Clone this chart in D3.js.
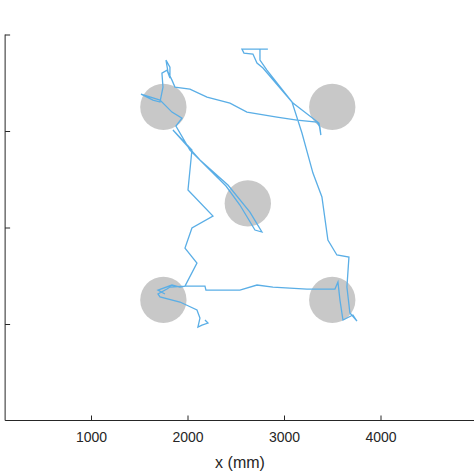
<!DOCTYPE html>
<html><head><meta charset="utf-8">
<script src="https://cdn.jsdelivr.net/npm/d3@7"></script>
<style>body{margin:0;background:#fff}</style>
</head><body>
<svg width="474" height="474"></svg>
<script>
// targets (mm)
const targetX = [1750, 3500, 2625, 1750, 3500];
const targetY = [3250, 3250, 2250, 1250, 1250];
const targetR = 240;
// trajectory (mm)
const pathX = [1766,1694,1839,1922,1974,2098,1974,2046,2264,2005,2046,1849,2129,2419,2647,2771,2699,2543,2399,2025,1880,1943,1839,1715,1518,1642,1715,1746,1735,1787,1818,1818,1777,1798,1839,1870,2025,2202,2440,2616,2927,3134,3341,3372,3382,3362,3093,2823,2751,2751,2833,2564,2585,2678,2720,2782,3083,3186,3300,3393,3455,3548,3673,3652,3683,3756,3714,3611,3580,3559,3528,3238,2885,2720,2543,2191,2181,1974,1818,1787,1694,1715,1922,2098,2129,2108,2150,2212,2181];
const pathY = [1311,1352,1404,1383,1393,1632,1787,1995,2119,2389,2803,3010,2699,2440,2160,1953,1974,2233,2430,2803,3052,3134,3196,3320,3382,3320,3300,3455,3600,3631,3548,3662,3735,3610,3527,3455,3434,3351,3289,3196,3144,3113,3093,3041,2958,3082,3289,3631,3735,3849,3849,3849,3807,3797,3704,3652,3300,2979,2564,2316,1870,1715,1694,1383,1114,1031,1093,1041,1248,1435,1362,1362,1383,1404,1352,1352,1393,1393,1383,1362,1311,1280,1228,1145,1062,968,989,1010,1041];
const xTicks = [1000, 2000, 3000, 4000];
const yTicks = [1000, 2000, 3000, 4000];

var svg = d3.select("svg");
const x = d3.scaleLinear().domain([0, 5000]).range([-5.5, 477]);
const y = d3.scaleLinear().domain([0, 4000]).range([420.5, 34.5]);
const k = x(1000) - x(0);

svg.selectAll('circle.t').data(targetX).enter().append('circle')
    .attr('cx', d => x(d))
    .attr('cy', (d, i) => y(targetY[i]))
    .attr('r', targetR * k / 1000)
    .attr('fill', '#c8c8c8');

const pts = pathX.map((d, i) => [d, pathY[i]]);
svg.append('path')
    .attr('d', d3.line().x(d => x(d[0])).y(d => y(d[1]))(pts))
    .attr('fill', 'none')
    .attr('stroke', '#5aaee6')
    .attr('stroke-width', 1.3);

const x0 = 110;
const gx = svg.append('g').attr('transform', `translate(0,${y(0)})`)
    .call(d3.axisBottom(x).tickValues(xTicks).tickFormat(d3.format('d')).tickSize(-5).tickPadding(12).tickSizeOuter(0));
gx.select('.domain').attr('d', `M${x(x0)},0H474`);
gx.selectAll('text').attr('font-family', 'Liberation Sans, Arial').attr('font-size', 14).attr('fill', '#262626');
gx.selectAll('line, .domain').attr('stroke', '#262626');

const gy = svg.append('g').attr('transform', `translate(${x(x0)},0)`)
    .call(d3.axisLeft(y).tickValues(yTicks).tickFormat('').tickSize(-5).tickSizeOuter(0));
gy.select('.domain').attr('d', `M0,${y(4000)}V${y(0)}`);
gy.selectAll('line, .domain').attr('stroke', '#262626');

svg.append('text').attr('x', 240).attr('y', 468).attr('text-anchor', 'middle')
    .attr('font-family', 'Liberation Sans, Arial').attr('font-size', 16).attr('fill', '#262626')
    .text('x (mm)');
</script>
</body></html>
